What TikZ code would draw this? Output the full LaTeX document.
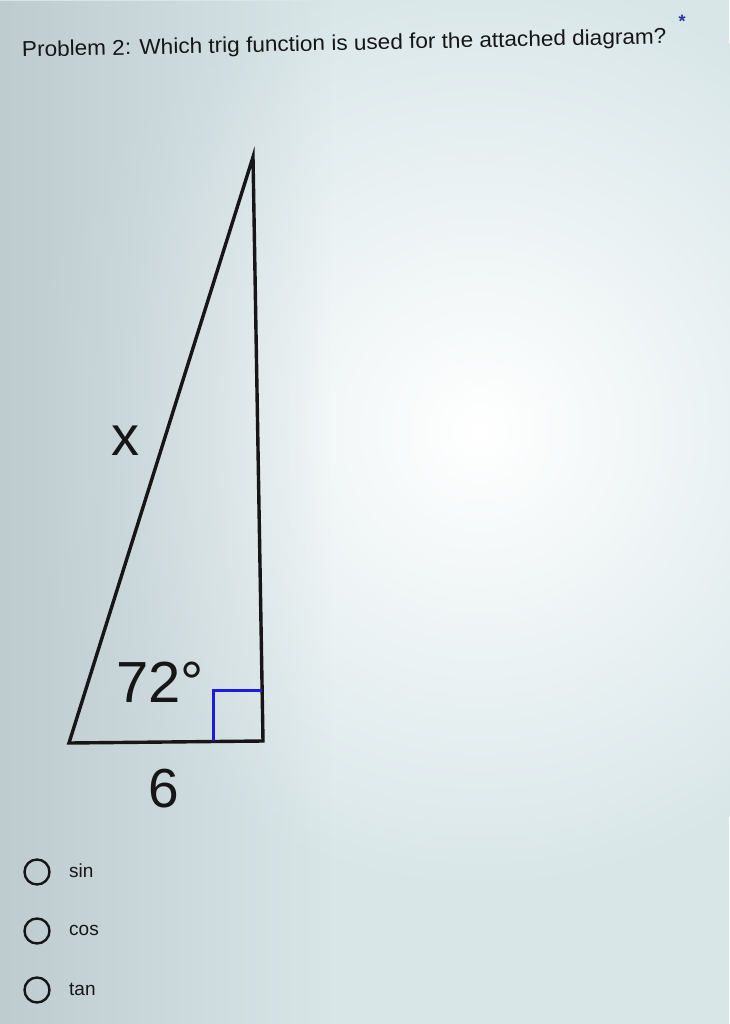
\documentclass[tikz,border=0pt]{standalone}
\usepackage{fontspec}
\setmainfont{Liberation Sans}
\usetikzlibrary{fadings}
\definecolor{bgc}{RGB}{216,230,232}
\definecolor{bgl}{RGB}{190,204,208}
\definecolor{ink}{RGB}{22,22,22}
\definecolor{rablue}{RGB}{28,28,225}
\definecolor{astc}{RGB}{40,50,160}
\tikzfading[name=fadeleft, left color=transparent!0, right color=transparent!100]
\begin{document}
\begin{tikzpicture}[x=1pt,y=-1pt,
  edge/.style={draw=ink,line width=3.4pt,line join=miter},
  rbox/.style={draw=rablue,line width=3pt},
  lab/.style={text=ink,inner sep=0pt,anchor=center},
  radio/.style={circle,draw=ink,line width=2.4pt,minimum size=25pt,inner sep=0pt},
  opt/.style={text=ink,inner sep=0pt,anchor=west,font=\fontsize{19}{22}\selectfont}]
\useasboundingbox (0,0) rectangle (729,1024);
% background
\fill[bgc] (0,0) rectangle (729,1024);
\shade[inner color=white,outer color=bgc] (480,430) circle (460);
\fill[bgl,path fading=fadeleft,fit fading=true] (0,0) rectangle (330,1024);
% title
\node[lab,anchor=base west,rotate=1.2,xscale=1.05,font=\fontsize{21.5}{24}\selectfont] (title) at (22,57) {Problem 2: Which trig function is used for the attached diagram?};
\node[lab,text=astc,font=\bfseries\fontsize{18}{20}\selectfont] (ast) at (682,21) {*};
% triangle
\coordinate (T) at (253,157);
\coordinate (BL) at (69,743);
\coordinate (BR) at (263,741);
\draw[edge] (T) -- (BL) -- (BR) -- cycle;
% right angle mark
\coordinate (r1) at (213,741);
\coordinate (r2) at (213,690);
\coordinate (r3) at (262,690);
\draw[rbox] (r1) -- (r2) -- (r3);
% labels
\node[lab,font=\fontsize{56}{60}\selectfont] (lx) at (125,441) {x};
\node[lab,anchor=base west,font=\fontsize{58}{62}\selectfont] (lang) at (116,702) {72°};
\node[lab,anchor=base,font=\fontsize{55}{60}\selectfont] (lsix) at (164,807) {6};
% options
\node[radio] (c1) at (37,872) {};
\node[radio] (c2) at (37,931) {};
\node[radio] (c3) at (37,990) {};
\node[opt] (o1) at (69,871) {sin};
\node[opt] (o2) at (69,930) {cos};
\node[opt] (o3) at (69,989) {tan};
\end{tikzpicture}
\end{document}
